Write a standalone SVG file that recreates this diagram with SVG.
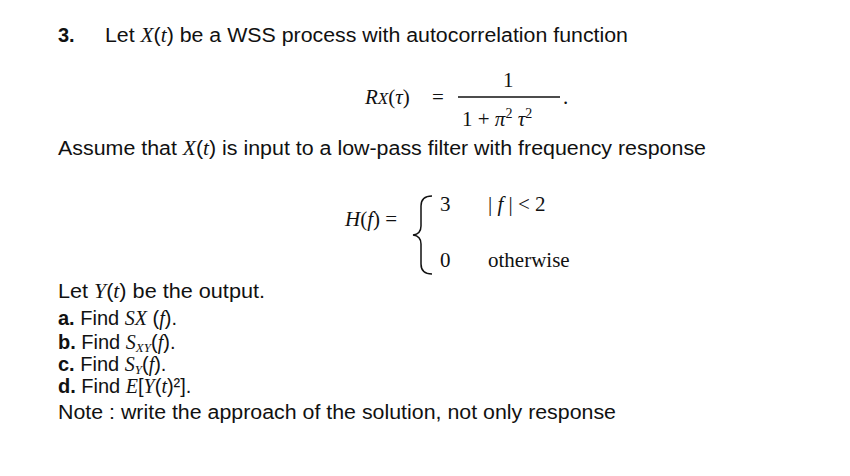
<svg xmlns="http://www.w3.org/2000/svg" width="850" height="476" viewBox="0 0 850 476">
<style>
.s{font-family:"Liberation Sans",Arial,sans-serif;font-size:20px;fill:#111}
.m{font-family:"Liberation Serif","DejaVu Serif",serif;font-style:italic}
.r{font-family:"Liberation Serif","DejaVu Serif",serif;font-size:21px;fill:#111}
.b{font-weight:bold}
</style>
<rect width="850" height="476" fill="#fff"/>
<text class="s b" x="58" y="42">3.</text>
<text class="s" x="105" y="42" textLength="523" lengthAdjust="spacingAndGlyphs">Let <tspan class="m">X</tspan>(<tspan class="m">t</tspan>) be a WSS process with autocorrelation function</text>
<text class="r" x="365" y="104" font-size="22"><tspan font-style="italic">R</tspan><tspan font-size="17" font-style="italic">X</tspan>(<tspan font-style="italic">τ</tspan>)</text>
<text class="r" x="432" y="104" font-size="22">=</text>
<line x1="458" y1="97" x2="560" y2="97" stroke="#111" stroke-width="1.3"/>
<text class="r" x="503" y="87">1</text>
<text class="r" x="462" y="126">1 + <tspan font-style="italic">π</tspan><tspan font-size="14" dy="-8">2</tspan><tspan dy="8" font-style="italic"> τ</tspan><tspan font-size="14" dy="-8">2</tspan></text>
<text class="r" x="563" y="104">.</text>
<text class="s" x="58" y="155" textLength="648" lengthAdjust="spacingAndGlyphs">Assume that <tspan class="m">X</tspan>(<tspan class="m">t</tspan>) is input to a low-pass filter with frequency response</text>
<text class="r" x="345" y="226" font-size="17"><tspan font-style="italic">H</tspan>(<tspan font-style="italic">f</tspan>) =</text>
<path d="M432,196 Q421,196 421,206 L421,226 Q421,234 413,235 Q421,236 421,244 L421,264 Q421,274 432,274" fill="none" stroke="#111" stroke-width="1.5"/>
<text class="r" x="440" y="211" font-size="16">3</text>
<text class="r" x="488" y="211" font-size="16">| <tspan font-style="italic">f</tspan> | &lt; 2</text>
<text class="r" x="440" y="267" font-size="16">0</text>
<text class="r" x="488" y="267" font-size="16">otherwise</text>
<text class="s" x="58" y="298" textLength="207" lengthAdjust="spacingAndGlyphs">Let <tspan class="m">Y</tspan>(<tspan class="m">t</tspan>) be the output.</text>
<text class="s" x="58" y="325"><tspan class="b">a.</tspan> Find <tspan class="m">SX</tspan> (<tspan class="m">f</tspan>).</text>
<text class="s" x="58" y="349"><tspan class="b">b.</tspan> Find <tspan class="m">S</tspan><tspan class="m" font-size="13" dy="3">XY</tspan><tspan dy="-3">(</tspan><tspan class="m">f</tspan>).</text>
<text class="s" x="58" y="371"><tspan class="b">c.</tspan> Find <tspan class="m">S</tspan><tspan class="m" font-size="13" dy="3">Y</tspan><tspan dy="-3">(</tspan><tspan class="m">f</tspan>).</text>
<text class="s" x="58" y="393"><tspan class="b">d.</tspan> Find <tspan class="m">E</tspan>[<tspan class="m">Y</tspan>(<tspan class="m">t</tspan>)²].</text>
<text class="s" x="58" y="419" textLength="558" lengthAdjust="spacingAndGlyphs">Note :  write the approach of the solution, not only response</text>
</svg>
